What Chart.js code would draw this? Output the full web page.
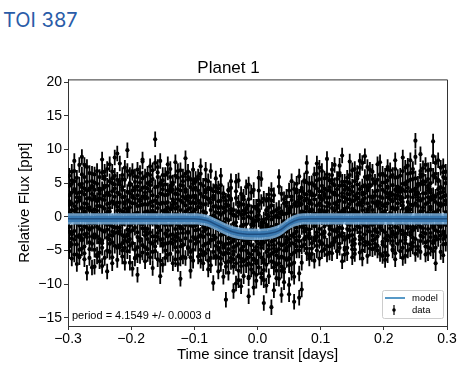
<!DOCTYPE html>
<html>
<head>
<meta charset="utf-8">
<script src="https://cdn.jsdelivr.net/npm/chart.js@4.4.1/dist/chart.umd.min.js"></script>
<style>
  body { margin: 0; width: 474px; height: 383px; position: relative; background: #fff; overflow: hidden; }
  #head { position: absolute; left: 3px; top: 8px; font: 400 20px/24px Inter, sans-serif; color: #2a5ca8; }
  #wrap { position: absolute; left: 0; top: 0; }
</style>
</head>
<body>
<div id="head">TOI 387</div>
<div id="wrap"><canvas id="myChart" width="474" height="383"></canvas></div>
<script>
// phase of each cadence (days since transit), shared by the folded transits
var phaseTime = [
  -0.298,-0.294,-0.290,-0.286,-0.282,-0.278,-0.274,-0.270,-0.266,-0.262,
  -0.258,-0.254,-0.250,-0.246,-0.242,-0.238,-0.234,-0.230,-0.226,-0.222,
  -0.218,-0.214,-0.210,-0.206,-0.202,-0.198,-0.194,-0.190,-0.186,-0.182,
  -0.178,-0.174,-0.170,-0.166,-0.162,-0.158,-0.154,-0.150,-0.146,-0.142,
  -0.138,-0.134,-0.130,-0.126,-0.122,-0.118,-0.114,-0.110,-0.106,-0.102,
  -0.098,-0.094,-0.090,-0.086,-0.082,-0.078,-0.074,-0.070,-0.066,-0.062,
  -0.058,-0.054,-0.050,-0.046,-0.042,-0.038,-0.034,-0.030,-0.026,-0.022,
  -0.018,-0.014,-0.010,-0.006,-0.002,0.002,0.006,0.010,0.014,0.018,
  0.022,0.026,0.030,0.034,0.038,0.042,0.046,0.050,0.054,0.058,
  0.062,0.066,0.070,0.074,0.078,0.082,0.086,0.090,0.094,0.098,
  0.102,0.106,0.110,0.114,0.118,0.122,0.126,0.130,0.134,0.138,
  0.142,0.146,0.150,0.154,0.158,0.162,0.166,0.170,0.174,0.178,
  0.182,0.186,0.190,0.194,0.198,0.202,0.206,0.210,0.214,0.218,
  0.222,0.226,0.230,0.234,0.238,0.242,0.246,0.250,0.254,0.258,
  0.262,0.266,0.270,0.274,0.278,0.282,0.286,0.290,0.294,0.298
];
// relative flux [ppt], one list per folded transit
var fluxA = [
  3.2,-4.1,6.8,0.5,-2.7,8.9,-6.3,1.9,-0.8,4.6,
  -7.4,2.3,5.9,-3.5,0.2,7.1,-5.2,3.8,-1.6,9.4,
  -2.1,4.4,-6.8,1.1,6.2,-3.9,2.7,-8.6,5.1,-0.4,
  3.6,-4.8,7.5,0.9,11.5,-2.4,4.9,-7.1,2.0,6.6,
  -5.5,1.4,8.1,-3.1,-9.2,5.3,-1.2,3.0,-6.0,7.0,
  2.8,-5.9,6.4,-2.2,0.6,-7.8,4.1,-3.4,5.7,-8.1,
  1.5,-4.6,-12.3,3.9,-6.7,0.3,5.2,-9.4,-1.8,2.6,
  -7.2,4.8,-3.0,-10.5,1.2,-5.4,5.6,-12.8,-2.4,3.3,
  -13.4,0.8,-8.0,4.5,-4.2,-9.7,2.1,-6.1,5.3,-12.6,
  -0.9,6.0,-4.4,2.4,8.0,-6.2,0.0,4.7,-2.8,7.3,
  -5.1,3.1,8.6,-1.4,5.5,-3.7,1.7,7.6,-6.6,2.2,
  4.3,-2.0,6.9,-4.9,0.7,8.3,-1.0,3.5,-5.8,6.1,
  1.0,-3.3,7.8,-0.2,4.0,-6.4,2.9,3.1,-2.6,5.8,
  -4.0,3.7,8.8,0.4,-5.0,6.5,-1.5,11.3,2.5,-3.6,
  7.2,0.1,-4.5,5.0,11.2,-6.9,8.4,-0.6,4.2,-2.9
];
var fluxB = [
  -1.5,5.4,-5.6,2.9,7.7,-3.2,0.8,-8.3,4.2,-0.3,
  6.3,-2.9,1.6,8.5,-6.1,3.4,-1.1,5.0,-4.3,0.1,
  7.9,-5.0,2.2,-1.9,4.7,-7.7,6.0,0.6,-3.6,8.2,
  -6.6,1.8,-2.3,5.6,-0.7,7.4,-8.8,3.3,-4.0,0.4,
  4.6,-2.6,6.1,-7.0,2.4,-0.5,8.7,-4.7,1.3,-3.0,
  5.2,-1.0,-6.5,3.0,7.0,-4.9,1.0,-9.8,4.4,-2.0,
  6.1,-8.9,0.9,-4.0,4.3,-11.0,-1.4,5.4,-7.3,1.8,
  -3.6,-11.8,3.6,-6.4,0.0,5.8,-9.0,-2.2,2.4,-5.7,
  4.0,-10.9,-1.2,5.9,-7.4,0.4,-3.8,-11.5,3.0,-0.6,
  4.9,-12.0,1.9,-3.4,6.6,-1.9,3.2,-6.5,7.9,0.2,
  -3.9,5.7,1.5,-5.3,7.0,-0.8,4.1,-2.7,9.1,-4.6,
  2.6,6.2,-6.0,0.9,4.8,-2.3,8.0,-0.1,3.9,-4.1,
  6.7,-1.8,2.3,-5.5,5.1,0.5,7.4,-3.0,1.2,-6.3,
  4.5,-0.4,6.8,-2.5,3.0,8.4,-4.4,8.9,1.6,5.9,
  -1.7,7.7,-5.4,3.6,0.6,6.4,-3.3,2.8,7.5,-0.9
];
var fluxC = [
  6.1,-2.3,0.9,-7.0,4.8,1.2,-4.4,7.4,-1.0,5.3,
  1.1,-5.9,3.9,-0.6,6.7,-8.1,2.0,-2.8,8.8,-4.6,
  0.3,5.6,-3.0,9.9,-1.3,3.1,-6.1,4.5,1.7,-5.3,
  6.0,-0.1,3.8,-7.6,8.0,2.0,-3.4,5.4,-1.2,7.8,
  0.0,-6.9,3.5,5.8,-1.7,-4.1,2.7,6.7,-8.0,4.0,
  -0.6,3.9,7.5,-5.2,1.9,-2.6,6.8,-0.9,-5.8,2.3,
  -2.7,3.4,-6.8,-0.5,5.3,-3.6,-9.9,1.6,-4.8,3.0,
  0.6,-6.0,-1.2,4.0,-8.6,-0.4,-4.1,2.7,-10.2,-1.7,
  1.7,-5.2,-2.9,-9.2,3.4,-0.9,-5.0,0.6,-8.3,4.1,
  -3.5,2.1,-10.8,5.2,-1.8,3.8,-4.7,6.3,-0.3,2.9,
  6.8,-2.2,0.9,4.4,-4.2,7.7,1.3,-1.6,5.2,0.8,
  -5.4,3.3,-0.7,7.1,1.8,-3.4,4.5,9.0,-2.1,1.5,
  -4.8,4.9,0.2,8.1,-2.0,3.7,-5.7,5.9,1.4,7.1,
  -2.4,2.6,-6.1,5.0,0.7,3.8,7.1,-1.6,4.6,9.3,
  2.7,-3.8,5.6,1.1,-1.3,8.0,3.4,-5.2,6.6,1.9
];
var fluxD = [
  -3.8,2.0,8.3,-0.9,-6.0,3.7,5.9,-2.5,1.4,-7.5,
  4.0,0.0,-3.3,6.6,2.5,-1.9,7.8,-6.9,4.2,2.1,
  -4.5,0.8,7.3,-2.8,2.2,6.5,-0.6,-5.7,3.9,8.5,
  -2.2,5.0,-6.0,1.6,4.4,-1.5,8.3,-4.3,0.6,-2.9,
  7.1,2.3,-3.6,4.1,-0.8,6.0,-6.1,2.4,5.6,-1.4,
  -4.0,6.0,0.1,-3.0,4.0,-1.6,-6.1,3.1,0.7,-3.8,
  4.7,-2.2,1.9,-8.3,2.5,-5.6,3.8,-2.9,-10.3,0.4,
  4.4,-8.9,-4.2,1.5,-6.9,3.9,-1.3,-7.9,1.0,-4.8,
  -2.8,3.2,-7.1,-0.1,-11.6,2.6,-4.6,3.9,-1.0,-6.8,
  1.6,-8.4,3.8,-0.4,-5.4,4.9,1.1,-3.1,5.4,-6.2,
  2.7,-0.6,6.3,-4.4,3.6,0.3,-5.1,6.5,-1.7,4.0,
  -2.9,8.2,1.2,-4.0,5.7,2.1,-6.2,4.6,0.6,7.0,
  -1.2,3.1,-4.3,6.3,1.7,-3.2,5.4,0.0,-5.0,8.4,
  3.2,-1.0,4.9,-3.9,7.6,1.1,-2.0,5.7,-4.9,2.4,
  6.2,-0.5,3.9,-3.0,9.0,0.3,-2.2,7.3,-4.1,3.2
];
var fluxE = [
  1.8,-2.6,4.1,-0.4,2.9,-4.7,0.6,5.2,-1.9,3.4,
  -3.1,0.9,-5.3,2.6,6.0,-0.7,1.3,-2.2,4.8,-4.4,
  2.1,-1.1,5.5,-3.7,0.3,3.9,-6.2,1.6,-0.2,4.3,
  -2.8,6.4,0.1,-4.0,2.4,-1.5,5.0,-3.3,1.0,-5.6,
  3.7,-0.9,2.0,-2.5,6.9,-4.2,0.8,3.1,-1.3,5.4,
  -2.0,1.5,-4.9,4.6,-0.5,2.7,-7.2,0.2,-3.1,3.6,
  -5.3,-0.8,2.4,-6.6,-2.1,1.0,-4.3,-8.0,0.3,-3.5,
  -6.3,1.7,-2.9,-5.0,-0.6,-7.5,2.2,-3.8,-1.2,-5.9,
  -0.4,-4.7,-9.1,1.3,-2.6,-6.1,0.5,-3.3,-7.0,1.9,
  -1.6,3.0,-4.4,0.7,5.1,-2.7,1.9,-0.9,4.2,-3.6,
  2.5,-1.4,5.8,0.2,-3.9,3.3,-0.6,6.1,-2.4,1.2,
  -4.6,4.0,0.8,-1.9,2.9,7.3,-3.2,0.4,5.6,-0.8,
  3.0,-2.1,1.6,6.2,-4.1,0.9,4.5,-1.7,2.3,-3.0,
  5.9,0.0,-2.6,3.8,1.4,-4.8,6.6,2.0,-1.1,4.9,
  -2.3,3.5,0.6,7.0,-3.6,2.2,5.3,-0.4,1.8,-4.0
];
var fluxF = [
  -0.8,3.6,-3.4,1.2,-5.8,4.4,2.0,-1.6,6.5,-2.9,
  0.5,4.9,-1.8,-4.6,3.1,0.7,-2.7,5.7,1.9,-6.4,
  3.3,-0.6,-3.5,6.8,1.4,-2.0,4.0,-4.5,2.6,0.0,
  -1.7,2.8,4.7,-5.2,0.6,-3.0,3.5,6.2,-0.9,2.2,
  -3.8,5.1,0.4,-1.2,3.9,-5.9,1.7,-2.4,4.4,-0.3,
  2.0,-3.7,4.9,-1.5,-5.4,2.6,0.0,-2.8,3.8,-4.6,
  -1.0,2.9,-7.4,-3.2,0.9,-5.1,-1.9,2.1,-6.2,-0.2,
  -4.0,-9.1,0.7,-2.4,-6.5,1.8,-3.6,-0.8,-5.2,2.7,
  -2.1,-6.8,0.2,-3.9,-1.4,-8.2,1.6,-4.3,-0.7,-2.5,
  3.6,-5.0,0.8,-1.7,2.7,-3.2,5.0,-0.4,-2.3,3.1,
  -0.1,4.2,-4.3,1.9,-1.0,3.6,-5.1,2.4,0.6,5.2,
  1.4,-2.8,3.7,-0.5,6.0,-4.0,2.5,-1.3,4.3,0.2,
  -3.5,2.0,5.5,-1.6,0.7,-5.3,3.4,6.9,-2.2,1.1,
  4.1,-0.8,2.8,-3.4,5.3,0.5,-1.9,3.7,-4.4,6.3,
  0.9,-2.5,4.6,1.5,-3.9,3.0,0.3,-1.2,5.9,2.4
];
var fluxG = [
  4.6,0.3,-2.1,5.8,-4.9,1.4,3.3,-0.6,-3.8,2.5,
  5.1,-1.5,2.8,-3.9,1.2,4.6,-0.5,-6.0,3.0,0.9,
  -2.5,4.0,1.3,-5.1,3.5,-0.8,2.0,5.9,-3.2,1.8,
  0.7,-3.3,5.2,2.3,-1.0,-6.3,1.9,4.1,-2.5,3.3,
  -1.2,2.6,-4.5,1.5,4.7,0.1,-3.2,5.5,-0.4,-4.9,
  4.3,0.4,-2.7,1.8,-4.0,5.3,-1.3,2.9,-6.1,0.6,
  2.4,-5.6,-0.3,3.1,-3.8,-1.0,-6.9,0.8,-2.6,-4.4,
  1.1,-3.4,-7.8,-0.9,-4.5,0.3,-2.8,-6.4,-1.6,1.4,
  -5.5,-1.8,-3.0,-6.9,0.4,-4.1,-2.2,0.9,-5.6,-1.3,
  2.2,-0.7,3.9,-4.1,1.5,-2.4,0.1,4.6,-5.0,1.0,
  -2.6,3.4,0.4,-1.8,5.0,-3.6,2.2,-0.9,3.0,-4.9,
  5.2,0.6,-2.7,3.1,-1.4,1.8,-5.0,4.7,2.0,-2.2,
  0.4,-4.6,3.9,1.2,-0.9,5.1,-2.8,2.6,-4.2,4.0,
  -1.6,6.1,1.7,-3.0,4.3,-0.3,2.9,-5.5,3.6,0.8,
  4.8,-1.0,2.1,-4.7,6.1,-2.0,1.0,4.4,-3.3,5.0
];
var fluxH = [
  -5.1,1.0,3.8,-2.9,0.4,6.3,-1.4,2.7,-4.8,0.9,
  3.0,-0.3,-6.6,4.1,-2.2,1.9,5.3,-3.8,0.0,3.6,
  -4.2,2.9,0.5,-2.6,5.0,-0.9,-4.9,3.2,6.5,-1.7,
  4.4,-5.5,2.1,-0.3,-2.9,4.5,0.2,-1.0,6.2,-3.9,
  1.1,4.8,-1.8,0.3,-4.4,2.1,6.4,-2.2,0.5,3.1,
  -3.3,5.6,-0.2,-4.3,2.9,-1.1,4.2,-5.2,1.6,-0.5,
  -3.8,0.6,-5.3,1.7,-2.9,-7.4,0.1,-4.0,3.4,-6.6,
  -2.0,-5.4,-0.2,-8.3,1.5,-4.0,-1.6,-6.8,0.9,-3.1,
  0.6,-7.5,-2.4,-0.1,-5.9,2.0,-3.5,-10.1,-1.0,-4.0,
  -2.2,1.7,-6.8,3.4,-0.6,2.0,-3.9,0.5,6.4,-1.8,
  4.6,-3.0,2.1,-0.2,6.2,-2.1,3.2,-4.6,0.9,2.9,
  -1.0,5.0,-3.6,2.5,-0.4,4.1,1.0,-2.6,7.4,-4.7,
  2.8,0.4,-2.3,4.6,-5.8,1.9,-0.5,3.6,6.2,-1.5,
  0.2,-3.6,4.0,-0.9,2.2,-2.7,5.6,-0.2,3.4,-5.2,
  -0.3,5.2,-1.8,2.9,0.0,-4.6,4.1,1.6,-2.5,6.7
];
var fluxI = [
  2.3,-6.2,0.0,3.5,-1.3,-3.5,4.2,0.2,2.8,-4.0,
  -1.0,6.8,-3.8,0.3,4.4,-5.0,3.2,-1.4,2.0,5.5,
  1.0,-3.9,3.0,-0.1,-6.8,2.0,4.4,-2.3,-1.0,5.7,
  -4.5,0.8,-1.0,3.2,-3.6,5.9,-0.4,2.1,-5.0,1.4,
  5.9,-3.3,3.4,-5.2,1.0,-1.8,4.1,-0.9,2.9,-6.5,
  1.1,-1.9,3.4,-6.9,0.6,4.3,-3.5,1.5,-1.0,-6.0,
  0.3,-4.2,-2.0,4.0,-6.1,0.2,-3.0,-5.7,1.9,-8.8,
  -3.0,0.0,-5.6,-1.3,-9.5,0.8,-4.6,-2.1,-7.1,0.1,
  -3.7,0.0,-5.1,-2.9,0.8,-7.7,-1.9,1.2,-3.9,-8.9,
  0.1,-2.9,4.3,-1.2,-4.7,2.4,-0.8,-3.5,1.7,5.6,
  -4.1,0.3,3.9,-2.6,1.3,4.7,-1.8,-4.0,3.5,0.5,
  3.4,-1.2,-4.8,5.3,0.4,-2.9,2.1,5.9,-3.8,3.0,
  -0.6,3.7,-2.9,0.0,6.4,-4.4,2.0,-1.1,4.7,-2.6,
  2.0,-5.1,1.2,4.8,-1.7,5.5,-3.1,3.3,0.0,-1.5,
  3.5,-4.4,6.9,-0.7,2.6,-2.9,5.5,-1.5,3.7,0.4
];
var fluxJ = [
  -2.2,4.9,1.6,-4.1,3.6,-0.2,-5.4,3.9,1.0,6.4,
  -4.9,2.5,0.3,-2.0,4.6,-3.1,0.8,6.7,-2.4,1.5,
  5.2,-2.7,-0.3,2.5,-4.3,6.8,0.5,-3.0,2.3,-1.1,
  2.7,-1.8,6.2,-2.9,0.5,3.0,-6.5,0.9,4.8,-2.0,
  -2.7,1.8,-6.3,3.3,-1.5,4.6,-0.1,-4.5,2.0,4.9,
  -1.3,2.4,-5.6,0.8,3.6,-3.9,2.1,-1.5,4.6,-4.9,
  -0.8,1.3,-4.0,-1.6,2.7,-6.3,-2.5,0.7,-5.0,-1.2,
  1.3,-6.9,-3.3,-0.5,-5.0,1.0,-8.4,-2.6,-0.3,-4.2,
  -1.5,-4.2,1.0,-6.1,-2.9,-0.6,-6.4,-1.7,1.5,-5.3,
  4.0,-3.6,0.4,-2.2,3.3,-5.6,0.9,2.6,-3.0,3.8,
  1.0,-4.8,2.8,5.4,-1.9,0.9,-3.0,4.6,-0.7,-5.6,
  5.8,-0.9,2.3,-3.3,6.5,-1.6,3.6,-4.2,1.1,4.5,
  -2.8,5.2,-0.1,3.0,-3.7,1.5,4.3,-0.3,-4.8,3.2,
  1.3,4.3,-2.1,0.0,6.4,-4.1,1.7,-0.6,4.9,-2.8,
  -3.0,1.9,4.3,-2.4,3.2,5.8,-1.1,2.0,-5.7,0.7
];
var fluxK = [
  0.6,-3.2,5.3,-5.6,2.4,-1.9,7.7,-3.0,4.0,-1.6,
  2.7,-5.6,4.2,1.5,-0.9,3.6,-3.4,-0.7,6.1,-2.3,
  -1.6,6.2,-4.6,3.7,-2.2,0.2,5.2,-0.5,-5.8,3.0,
  1.9,4.2,-3.8,0.4,-5.1,6.6,-2.0,-3.9,3.2,0.6,
  4.2,-4.0,1.2,6.8,-3.5,-2.4,3.7,1.1,-5.2,2.2,
  3.1,-0.5,2.0,-2.9,5.5,-6.5,-0.9,3.8,-4.3,1.3,
  -6.2,3.5,-1.4,-4.8,1.2,-3.3,2.8,-5.9,-1.4,0.9,
  -5.0,2.6,-1.8,-6.2,-3.6,2.4,-6.0,-0.4,-3.4,-8.8,
  2.4,-3.0,-5.7,0.6,-8.0,-2.1,3.0,-6.3,-2.8,0.3,
  -4.4,2.6,-1.5,5.4,-2.9,0.8,-5.5,3.2,-0.4,2.0,
  3.8,0.7,-5.6,2.9,-0.4,-3.2,5.6,0.1,-2.9,4.6,
  -3.1,1.9,4.5,-5.5,2.7,-0.1,3.3,-3.7,6.0,-1.0,
  5.6,-4.0,1.8,-1.2,2.8,-2.3,7.0,0.6,-3.6,2.7,
  -0.9,3.0,-4.6,7.3,-1.4,1.8,-3.8,4.2,0.3,6.8,
  1.4,-5.6,2.9,4.0,-1.6,-3.4,1.9,-2.8,3.0,-1.2
];
var fluxL = [
  -4.4,6.7,-0.1,2.2,-3.0,4.9,-2.6,1.3,-6.1,4.4,
  -2.6,1.6,3.4,-7.3,5.6,-1.2,-4.0,2.3,-0.8,-1.6,
  4.8,-5.9,1.9,0.7,-3.3,2.9,-1.6,7.0,0.0,-4.2,
  3.1,-2.5,0.5,6.9,-4.4,1.3,-0.2,4.7,-6.1,3.9,
  -0.5,4.0,-2.9,2.6,-6.2,3.0,-1.1,5.9,-3.6,0.8,
  5.6,-3.0,1.4,-5.7,-1.9,4.1,-3.4,2.6,-0.2,4.2,
  -7.0,-2.6,1.5,-5.4,0.5,-4.5,-0.8,-3.2,-6.7,2.6,
  -1.1,-3.9,-7.1,-0.7,-2.2,-5.6,-0.9,-9.4,0.4,-2.5,
  -6.6,-3.5,0.0,-4.8,-1.6,-5.0,-3.0,-7.2,2.5,-3.0,
  -5.0,-0.2,2.9,-3.2,1.2,-5.8,3.5,-1.4,-4.3,0.6,
  1.6,-2.4,-0.2,3.9,-5.4,2.0,-2.2,0.6,4.7,-3.4,
  -1.8,2.6,-4.2,0.5,3.5,-5.3,1.6,2.8,-1.5,4.8,
  2.2,-1.0,-5.0,2.1,0.2,6.1,-3.5,-0.8,3.3,-5.4,
  3.7,-2.0,2.2,-5.8,1.0,-2.3,4.0,-3.3,2.9,-0.6,
  5.3,-0.6,-3.6,2.5,-5.1,0.7,-0.9,3.6,-2.2,5.7
];
var fluxErr = 1.15;

// transit model and its spread
var modelTime = [-0.3, -0.1, -0.08, -0.06, -0.04, -0.02, 0.0, 0.02, 0.035, 0.05, 0.065, 0.08, 0.3];
var modelFlux = [-0.3, -0.3, -0.55, -1.4, -2.2, -2.55, -2.6, -2.45, -2.0, -1.0, -0.4, -0.3, -0.3];
var bandOuter = 0.85;
var bandInner = 0.45;

var xTicks = [-0.3, -0.2, -0.1, 0.0, 0.1, 0.2, 0.3];
var yTicks = [-15, -10, -5, 0, 5, 10, 15, 20];

var chartTitle = "Planet 1";
var xLabel = "Time since transit [days]";
var yLabel = "Relative Flux [ppt]";
var periodText = "period = 4.1549 +/- 0.0003 d";

var points = [];
[fluxA, fluxB, fluxC, fluxD, fluxE, fluxF, fluxG, fluxH, fluxI, fluxJ, fluxK, fluxL].forEach(function(f){
  f.forEach(function(v, i){
    if (i < phaseTime.length) points.push({x: phaseTime[i], y: v});
  });
});

function modelCurve(offset){
  return modelTime.map(function(t, i){ return {x: t, y: modelFlux[i] + offset}; });
}

function minusFmt(v, dec){
  var s = Math.abs(v).toFixed(dec);
  return v < 0 ? '\u2212' + s : s;
}

var errorBars = {
  id: 'errorBars',
  beforeDatasetsDraw: function(chart){
    var ctx = chart.ctx, a = chart.chartArea;
    var xs = chart.scales.x, ys = chart.scales.y;
    ctx.save();
    ctx.beginPath();
    ctx.rect(a.left, a.top, a.right - a.left, a.bottom - a.top);
    ctx.clip();
    ctx.strokeStyle = '#000';
    ctx.lineWidth = 1.8;
    ctx.beginPath();
    chart.data.datasets[0].data.forEach(function(p){
      var px = xs.getPixelForValue(p.x);
      ctx.moveTo(px, ys.getPixelForValue(p.y + fluxErr));
      ctx.lineTo(px, ys.getPixelForValue(p.y - fluxErr));
    });
    ctx.stroke();
    ctx.restore();
  }
};

var extras = {
  id: 'extras',
  afterDraw: function(chart){
    var ctx = chart.ctx, a = chart.chartArea;
    ctx.save();
    // top and right spines
    ctx.strokeStyle = '#333';
    ctx.lineWidth = 1;
    ctx.beginPath();
    ctx.moveTo(a.left, a.top + 0.5);
    ctx.lineTo(a.right + 0.5, a.top + 0.5);
    ctx.lineTo(a.right + 0.5, a.bottom);
    ctx.stroke();

    // period note
    ctx.fillStyle = '#000';
    ctx.font = "11px 'Liberation Sans', Arial, sans-serif";
    ctx.textBaseline = 'alphabetic';
    ctx.textAlign = 'left';
    ctx.fillText(periodText, a.left + 4, a.bottom - 7);

    // legend
    var x0 = a.right - 65, y0 = a.bottom - 36;
    ctx.fillStyle = 'rgba(255,255,255,0.85)';
    ctx.strokeStyle = '#cccccc';
    ctx.beginPath();
    ctx.roundRect(x0 + 0.5, y0 + 0.5, 61, 28, 2);
    ctx.fill();
    ctx.stroke();
    ctx.strokeStyle = '#1f77b4';
    ctx.lineWidth = 1.5;
    ctx.beginPath();
    ctx.moveTo(x0 + 3, y0 + 8);
    ctx.lineTo(x0 + 23, y0 + 8);
    ctx.stroke();
    ctx.strokeStyle = '#000';
    ctx.lineWidth = 1.2;
    ctx.beginPath();
    ctx.moveTo(x0 + 12, y0 + 15);
    ctx.lineTo(x0 + 12, y0 + 25);
    ctx.stroke();
    ctx.fillStyle = '#000';
    ctx.beginPath();
    ctx.arc(x0 + 12, y0 + 20, 1.8, 0, Math.PI * 2);
    ctx.fill();
    ctx.font = "9.5px 'Liberation Sans', Arial, sans-serif";
    ctx.textBaseline = 'middle';
    ctx.fillText('model', x0 + 30, y0 + 8);
    ctx.fillText('data', x0 + 30, y0 + 20);
    ctx.restore();
  }
};

Chart.defaults.font.family = "'Liberation Sans', Arial, sans-serif";
Chart.defaults.color = '#000';

var ctx = document.getElementById('myChart');
var chart = new Chart(ctx, {
  type: 'line',
  data: {
    datasets: [
      { label: 'data', data: points, showLine: false, order: 10,
        pointRadius: 2.1, pointBackgroundColor: '#000', pointBorderWidth: 0, borderColor: '#000' },
      { label: 'outerHi', data: modelCurve(bandOuter), order: 6, borderWidth: 0, pointRadius: 0,
        fill: false, cubicInterpolationMode: 'monotone' },
      { label: 'outerLo', data: modelCurve(-bandOuter), order: 5, borderWidth: 0, pointRadius: 0,
        fill: '-1', backgroundColor: 'rgba(125,178,222,0.85)', cubicInterpolationMode: 'monotone' },
      { label: 'innerHi', data: modelCurve(bandInner), order: 4, borderWidth: 0, pointRadius: 0,
        fill: false, cubicInterpolationMode: 'monotone' },
      { label: 'innerLo', data: modelCurve(-bandInner), order: 3, borderWidth: 0, pointRadius: 0,
        fill: '-1', backgroundColor: 'rgba(48,115,175,0.85)', cubicInterpolationMode: 'monotone' },
      { label: 'model', data: modelCurve(0), order: 1, borderColor: '#1f4e80', borderWidth: 1.5,
        pointRadius: 0, fill: false, cubicInterpolationMode: 'monotone' }
    ]
  },
  options: {
    responsive: false,
    animation: false,
    events: [],
    layout: { padding: { left: 10, right: 27, top: 58, bottom: 10 } },
    plugins: {
      legend: { display: false },
      tooltip: { enabled: false },
      title: { display: true, text: chartTitle, font: { size: 17, weight: 'normal' },
        padding: { top: 0, bottom: 1 }, color: '#000' }
    },
    scales: {
      x: {
        type: 'linear', min: -0.3, max: 0.3,
        afterBuildTicks: function(s){ s.ticks = xTicks.map(function(v){ return {value: v}; }); },
        afterFit: function(s){ s.height = 47; },
        ticks: { font: { size: 14 }, padding: 1, maxRotation: 0,
          callback: function(v){ return minusFmt(v, 1); } },
        grid: { drawOnChartArea: false, drawTicks: true, tickLength: 4, color: '#333' },
        border: { display: true, color: '#333' },
        title: { display: true, text: xLabel, font: { size: 15 }, padding: { top: 0, bottom: 9 } }
      },
      y: {
        type: 'linear', min: -16.2, max: 20.4,
        afterBuildTicks: function(s){ s.ticks = yTicks.map(function(v){ return {value: v}; }); },
        afterFit: function(s){ s.width = 58; },
        ticks: { font: { size: 14 }, padding: 2,
          callback: function(v){ return minusFmt(v, 0); } },
        grid: { drawOnChartArea: false, drawTicks: true, tickLength: 4, color: '#333' },
        border: { display: true, color: '#333' },
        title: { display: true, text: yLabel, font: { size: 15 }, padding: { top: 6, bottom: 0 } }
      }
    }
  },
  plugins: [errorBars, extras]
});
</script>
</body>
</html>
